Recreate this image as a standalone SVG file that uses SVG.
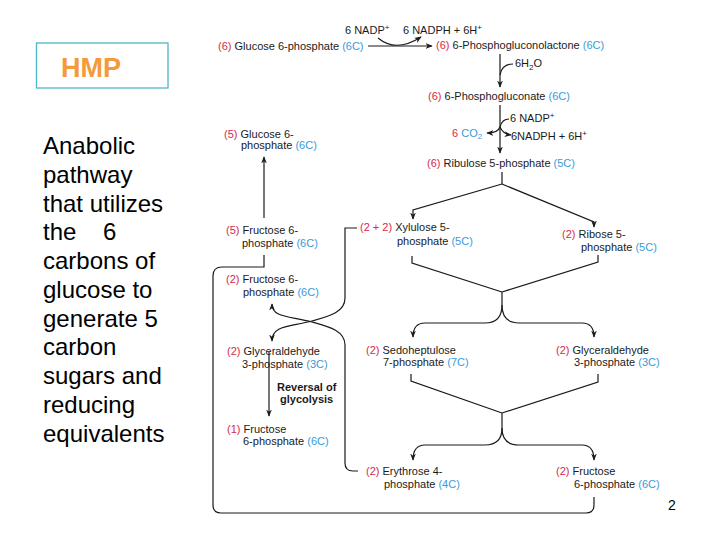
<svg xmlns="http://www.w3.org/2000/svg" width="720" height="540" viewBox="0 0 720 540">
<style>
.t{font-family:"Liberation Sans",Arial,sans-serif;font-size:11px;fill:#1a1a1a}
.r{fill:#d42a4a}
.b{fill:#3a9ad9}
.big{font-family:"Liberation Sans",Arial,sans-serif;font-size:24px;fill:#000}
.ln{fill:none;stroke:#1a1a1a;stroke-width:1.2}
.ar{marker-end:url(#ah)}
</style>
<defs>
<marker id="ah" viewBox="0 0 10 10" refX="9" refY="5" markerWidth="6" markerHeight="6" orient="auto" markerUnits="strokeWidth">
<path d="M0,1 L10,5 L0,9 L3,5 z" fill="#1a1a1a"/>
</marker>
</defs>
<rect width="720" height="540" fill="#fff"/>

<g id="title">
<rect x="36.5" y="43" width="131.5" height="45" fill="none" stroke="#4ab8c4" stroke-width="1.3"/>
<text x="61" y="77" font-family="Liberation Sans,Arial,sans-serif" font-size="27" font-weight="bold" fill="#f39a3c">HMP</text>
</g>

<g id="description">
<text class="big" x="43" y="154">Anabolic</text>
<text class="big" x="43" y="183">pathway</text>
<text class="big" x="43" y="212">that utilizes</text>
<text class="big" x="43" y="240">the<tspan x="103">6</tspan></text>
<text class="big" x="43" y="269">carbons of</text>
<text class="big" x="43" y="298">glucose to</text>
<text class="big" x="43" y="327">generate 5</text>
<text class="big" x="43" y="355">carbon</text>
<text class="big" x="43" y="384">sugars and</text>
<text class="big" x="43" y="413">reducing</text>
<text class="big" x="43" y="442">equivalents</text>
</g>

<g id="connectors">
<path class="ln ar" d="M368,46 L432,46"/>
<path class="ln ar" d="M378,38 Q396,53 421,37"/>
<path class="ln ar" d="M500,54 L500,87"/>
<path class="ln" d="M500,75 Q502,64 513,64"/>
<path class="ln ar" d="M500,105 L500,153"/>
<path class="ln" d="M500,127 Q502,119 509,119"/>
<path class="ln ar" d="M500,127 Q498,133 487,133"/>
<path class="ln ar" d="M500,127 Q503,134 511,135"/>
<path class="ln" d="M502,172 L502,184"/>
<path class="ln ar" d="M502,184 L413,210 L413,219"/>
<path class="ln ar" d="M502,184 L594,222 L594,227"/>
<path class="ln" d="M412,256 L412,263 L502,292 M598,255 L598,262 L502,292 M502,292 L502,305"/>
<path class="ln ar" d="M502,305 Q502,323 485,323 L425,323 Q413,323 413,337"/>
<path class="ln ar" d="M502,305 Q502,323 519,323 L582,323 Q594,323 594,337"/>
<path class="ln" d="M411,374 L411,381 L502,413 M598,374 L598,382 L502,413 M502,413 L502,428"/>
<path class="ln ar" d="M502,428 Q502,445 485,445 L425,445 Q413,445 413,460"/>
<path class="ln ar" d="M502,428 Q502,445 519,445 L582,445 Q594,445 594,460"/>
<path class="ln ar" d="M264,218 L264,157"/>
<path class="ln" d="M264,255 L264,267 L222,267 Q213,267 213,276 L213,505 Q213,513 221,513 L586,513 Q594,513 594,505 L594,497"/>
<path class="ln ar" d="M357,228 L345,228 L345,298 C345,312 330,316 312,321 C290,327 272,325 272,341"/>
<path class="ln ar" d="M358,471 L353,471 Q345,471 345,463 L345,345 C345,331 330,327 312,322 C290,316 272,318 272,304"/>
<path class="ln ar" d="M269,352 L269,416"/>
</g>

<g id="cofactors">
<text class="t" x="345" y="34">6 NADP<tspan font-size="8" dy="-4">+</tspan></text>
<text class="t" x="403" y="34">6 NADPH + 6H<tspan font-size="8" dy="-4">+</tspan></text>
<text class="t" x="515" y="67">6H<tspan font-size="8" dy="3">2</tspan><tspan dy="-3">O</tspan></text>
<text class="t" x="510" y="122">6 NADP<tspan font-size="8" dy="-4">+</tspan></text>
<text class="t" x="452" y="137"><tspan class="r">6</tspan> <tspan class="b">CO</tspan><tspan class="b" font-size="8" dy="2">2</tspan></text>
<text class="t" x="511" y="140">6NADPH + 6H<tspan font-size="8" dy="-4">+</tspan></text>
</g>

<g id="n-g6p"><text class="t" x="218" y="50"><tspan class="r">(6)</tspan> Glucose 6-phosphate <tspan class="b">(6C)</tspan></text></g>
<g id="n-lactone"><text class="t" x="436" y="49"><tspan class="r">(6)</tspan> 6-Phosphogluconolactone <tspan class="b">(6C)</tspan></text></g>
<g id="n-gluconate"><text class="t" x="428" y="100"><tspan class="r">(6)</tspan> 6-Phosphogluconate <tspan class="b">(6C)</tspan></text></g>
<g id="n-ribulose"><text class="t" x="427" y="167"><tspan class="r">(6)</tspan> Ribulose 5-phosphate <tspan class="b">(5C)</tspan></text></g>

<g id="n-g6p5">
<text class="t" x="224" y="138"><tspan class="r">(5)</tspan> Glucose 6-</text>
<text class="t" x="241" y="149">phosphate <tspan class="b">(6C)</tspan></text>
</g>
<g id="n-f6p5">
<text class="t" x="226" y="234"><tspan class="r">(5)</tspan> Fructose 6-</text>
<text class="t" x="242" y="247">phosphate <tspan class="b">(6C)</tspan></text>
</g>
<g id="n-f6p2a">
<text class="t" x="226" y="283"><tspan class="r">(2)</tspan> Fructose 6-</text>
<text class="t" x="243" y="296">phosphate <tspan class="b">(6C)</tspan></text>
</g>
<g id="n-g3p2a">
<text class="t" x="227" y="355"><tspan class="r">(2)</tspan> Glyceraldehyde</text>
<text class="t" x="242" y="368">3-phosphate <tspan class="b">(3C)</tspan></text>
</g>
<g id="l-reversal">
<text class="t" x="277" y="391" font-size="10" font-weight="bold">Reversal of</text>
<text class="t" x="280" y="403" font-size="10" font-weight="bold">glycolysis</text>
</g>
<g id="n-f6p1">
<text class="t" x="227" y="433"><tspan class="r">(1)</tspan> Fructose</text>
<text class="t" x="243" y="445">6-phosphate <tspan class="b">(6C)</tspan></text>
</g>

<g id="n-xylulose">
<text class="t" x="360" y="231"><tspan class="r">(2 + 2)</tspan> Xylulose 5-</text>
<text class="t" x="397" y="245">phosphate <tspan class="b">(5C)</tspan></text>
</g>
<g id="n-ribose">
<text class="t" x="562" y="238"><tspan class="r">(2)</tspan> Ribose 5-</text>
<text class="t" x="581" y="251">phosphate <tspan class="b">(5C)</tspan></text>
</g>
<g id="n-sedo">
<text class="t" x="366" y="354"><tspan class="r">(2)</tspan> Sedoheptulose</text>
<text class="t" x="383" y="366">7-phosphate <tspan class="b">(7C)</tspan></text>
</g>
<g id="n-g3p2b">
<text class="t" x="556" y="354"><tspan class="r">(2)</tspan> Glyceraldehyde</text>
<text class="t" x="574" y="366">3-phosphate <tspan class="b">(3C)</tspan></text>
</g>
<g id="n-e4p">
<text class="t" x="366" y="475"><tspan class="r">(2)</tspan> Erythrose 4-</text>
<text class="t" x="384" y="488">phosphate <tspan class="b">(4C)</tspan></text>
</g>
<g id="n-f6p2b">
<text class="t" x="556" y="475"><tspan class="r">(2)</tspan> Fructose</text>
<text class="t" x="574" y="488">6-phosphate <tspan class="b">(6C)</tspan></text>
</g>

<g id="page"><text x="668" y="510" font-family="Liberation Sans,Arial,sans-serif" font-size="14" fill="#000">2</text></g>
</svg>
